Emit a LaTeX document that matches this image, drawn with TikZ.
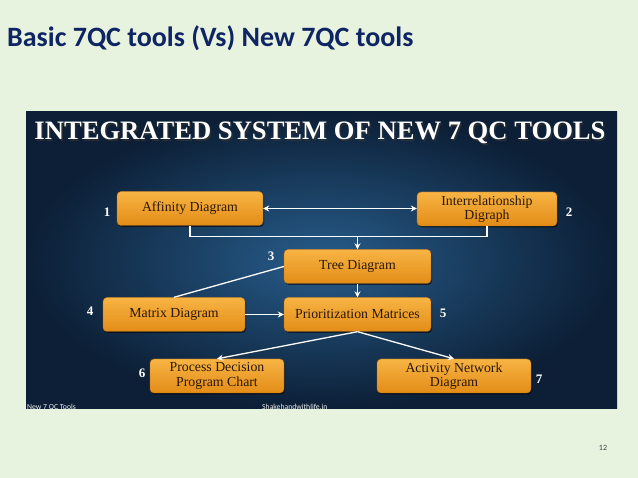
\documentclass[tikz,border=0pt]{standalone}
\usepackage{fontspec}
\setmainfont{Liberation Serif}
\newfontfamily\calib{Carlito}
\usetikzlibrary{shadows,arrows.meta}
\definecolor{bgg}{HTML}{E7F2DF}
\definecolor{navy}{HTML}{0F2463}
\definecolor{pinner}{HTML}{275C8A}
\definecolor{pouter}{HTML}{0C1F36}
\definecolor{orTop}{HTML}{F7B444}
\definecolor{orBot}{HTML}{E38C17}
\definecolor{orEdge}{HTML}{B96A10}
\definecolor{boxtxt}{HTML}{2A1707}
\tikzset{
  qcbox/.style={rounded corners=4pt, top color=orTop, bottom color=orBot, draw=orEdge, line width=0.4pt,
    minimum height=34pt, align=center, text=boxtxt, inner sep=1pt,
    font=\fontsize{13.8}{14.5}\selectfont,
    drop shadow={opacity=0.55, shadow xshift=1pt, shadow yshift=-1.5pt, fill=black}},
  numlbl/.style={text=white, font=\fontsize{13}{14}\selectfont\bfseries, inner sep=0pt},
  conn/.style={draw=white, line width=1.3pt},
  arr/.style={conn, -{Stealth[length=6pt,width=6pt]}},
  darr/.style={conn, {Stealth[length=6pt,width=6pt]}-{Stealth[length=6pt,width=6pt]}}
}
\begin{document}
\begin{tikzpicture}[x=1pt,y=-1pt]
\useasboundingbox (0,0) rectangle (638,478);
\fill[bgg] (0,0) rectangle (638,478);
% title
\node[anchor=west, text=navy, inner sep=0pt, font=\calib\bfseries\fontsize{28}{32}\selectfont] (title) at (7,38) {Basic 7QC tools (Vs) New 7QC tools};
% panel
\shade[inner color=pinner, outer color=pouter] (26,112) rectangle (617,409);
\node[text=black!80, opacity=0.7, inner sep=0pt, font=\bfseries\fontsize{26.6}{28}\selectfont] (ptitles) at (321.5,134.5) {INTEGRATED SYSTEM OF NEW 7 QC TOOLS};
\node[text=white, inner sep=0pt, font=\bfseries\fontsize{26.6}{28}\selectfont] (ptitle) at (320,133) {INTEGRATED SYSTEM OF NEW 7 QC TOOLS};
% footer texts (cut at the panel bottom)
\begin{scope}
\clip (26,400) rectangle (617,409.5);
\node[anchor=north west, text=white!85!gray, inner sep=0pt, font=\calib\fontsize{7.7}{8}\selectfont] (foot1) at (27,404) {New 7 QC Tools};
\node[anchor=north west, text=white!85!gray, inner sep=0pt, font=\calib\fontsize{7.7}{8}\selectfont] (foot2) at (262,404) {Shakehandwithlife.in};
\end{scope}
% boxes
\node[qcbox, minimum width=146pt] (aff) at (190,208.5) {Affinity Diagram};
\node[qcbox, minimum width=140pt] (int) at (487,209) {Interrelationship\\Digraph};
\node[qcbox, minimum width=147pt] (tree) at (357.5,266.5) {Tree Diagram};
\node[qcbox, minimum width=142pt] (mat) at (174,314.5) {Matrix Diagram};
\node[qcbox, minimum width=147pt] (prio) at (357.5,314.5) {Prioritization Matrices};
\node[qcbox, minimum width=134pt] (pdpc) at (217,376) {Process Decision\\Program Chart};
\node[qcbox, minimum width=154pt] (act) at (454,376) {Activity Network\\Diagram};
% numbers
\node[numlbl] (n1) at (107,212) {1};
\node[numlbl] (n2) at (569,212) {2};
\node[numlbl] (n3) at (271,256) {3};
\node[numlbl] (n4) at (90,311) {4};
\node[numlbl] (n5) at (443,313) {5};
\node[numlbl] (n6) at (142,373) {6};
\node[numlbl] (n7) at (539,379) {7};
% connectors
\draw[darr] (aff.east) -- (aff.east -| int.west);
\draw[conn] (aff.south) -- ++(0,11) coordinate (bl) -| (int.south);
\draw[arr] (tree.north |- bl) -- (tree.north);
\draw[arr] (tree.south) -- (prio.north);
\draw[conn] (tree.west) -- (mat.north);
\draw[arr] (mat.east) -- (prio.west);
\draw[arr] (prio.south) -- (pdpc.north);
\draw[arr] (prio.south) -- (act.north);
% page number
\node[text=black!75, inner sep=0pt, font=\calib\fontsize{8}{9}\selectfont] (pg) at (603,448) {12};
\end{tikzpicture}
\end{document}
